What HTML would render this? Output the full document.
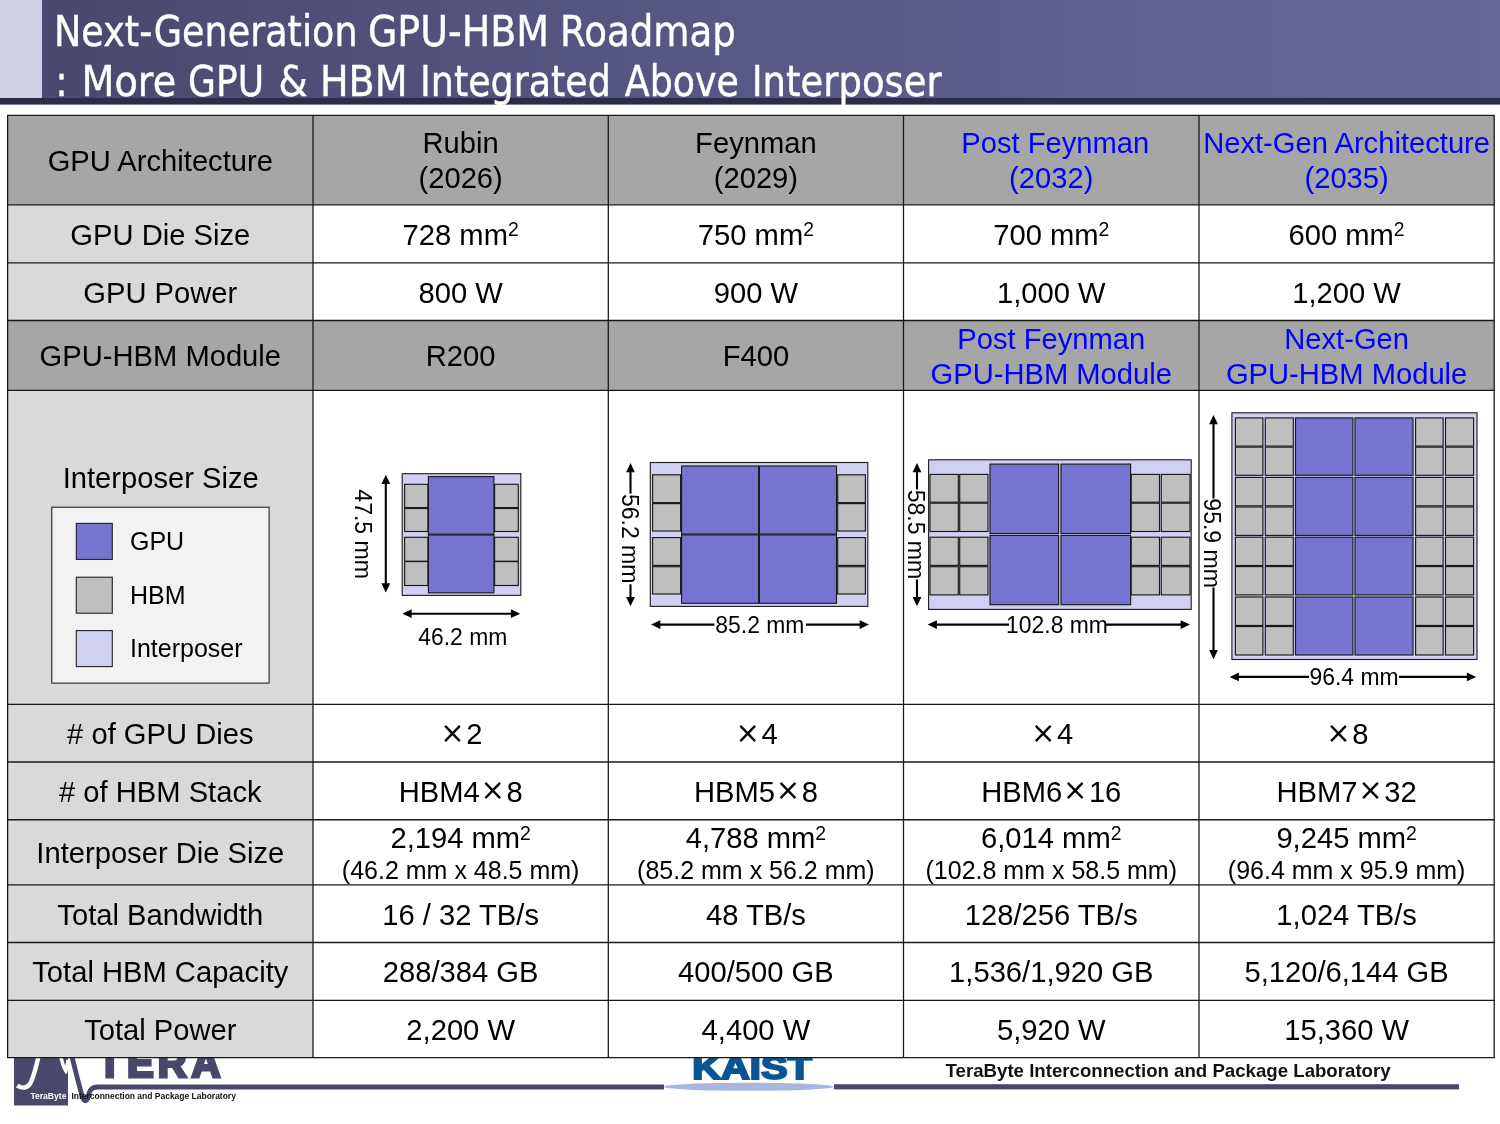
<!DOCTYPE html>
<html lang="en"><head><meta charset="utf-8"><title>Next-Generation GPU-HBM Roadmap</title>
<style>
html,body{margin:0;padding:0;background:#fff;}
body{width:1500px;height:1124px;position:relative;overflow:hidden;font-family:"Liberation Sans",sans-serif;}
svg{position:absolute;left:0;top:0;}
svg text{font-family:"Liberation Sans",sans-serif;}
.ttl{font-family:"DejaVu Sans","Liberation Sans",sans-serif;fill:#fff;font-size:42px;stroke:#fff;stroke-width:0.4px;}
.mx{font-family:"DejaVu Sans","Liberation Sans",sans-serif;}
</style></head><body>
<svg width="1500" height="1124" viewBox="0 0 1500 1124">
<defs>
<linearGradient id="hg" x1="0" y1="0" x2="1" y2="0"><stop offset="0" stop-color="#48486d"/><stop offset="0.25" stop-color="#50507a"/><stop offset="0.8" stop-color="#636395"/><stop offset="1" stop-color="#666699"/></linearGradient>
</defs>
<!-- header -->
<rect x="0" y="0" width="1500" height="99" fill="url(#hg)"/>
<rect x="0" y="0" width="42" height="98.5" fill="#d0d0e3"/>
<rect x="0" y="98" width="1500" height="6.6" fill="#2d2d47"/>
<text class="ttl" transform="translate(54.03,45.6) scale(0.8704,1)">Next-Generation</text>
<text class="ttl" transform="translate(367.9,45.6) scale(0.9043,1)">GPU-HBM</text>
<text class="ttl" transform="translate(559.98,45.6) scale(0.8851,1)">Roadmap</text>
<text class="ttl" transform="translate(55.15,95.6) scale(0.885,1)">:</text>
<text class="ttl" transform="translate(81.59,95.6) scale(0.9084,1)">More</text>
<text class="ttl" transform="translate(188.01,95.6) scale(0.8581,1)">GPU</text>
<text class="ttl" transform="translate(278.49,95.6) scale(0.8916,1)">&amp;</text>
<text class="ttl" transform="translate(319.89,95.6) scale(0.9077,1)">HBM</text>
<text class="ttl" transform="translate(420.04,95.6) scale(0.8678,1)">Integrated</text>
<text class="ttl" transform="translate(624.81,95.6) scale(0.8657,1)">Above</text>
<text class="ttl" transform="translate(751.69,95.6) scale(0.8804,1)">Interposer</text>
<!-- footer (drawn before table, table overlaps it) -->
<g id="footer">
<rect x="14" y="1040" width="54" height="65.5" fill="#48486d"/>
<path d="M17.2,1085.6 C22,1088.6 27.5,1088.6 30.5,1083 C34,1076 36.5,1066 39.5,1052" fill="none" stroke="#fff" stroke-width="4.4"/>
<path d="M59.5,1050 C61,1058 63.5,1068 65.8,1070.8 C66.8,1068 67.3,1064 68.2,1060" fill="none" stroke="#fff" stroke-width="3.6"/>
<path d="M70.2,1050 C74,1064 79,1086 82.5,1097 C84,1102 86.8,1102 88,1097 C89.5,1090.5 91,1087 98,1087 L664,1087" fill="none" stroke="#48486d" stroke-width="4.8"/>
<text x="97.6 126.9 157.8 191.5" y="1077.1" font-size="40" font-weight="bold" fill="#48486d" stroke="#48486d" stroke-width="3" stroke-linejoin="miter">TERA</text>
<text x="30.4" y="1099.4" font-size="8.8" font-weight="bold" fill="#fff" textLength="36" lengthAdjust="spacingAndGlyphs">TeraByte</text>
<text x="71.4" y="1099.4" font-size="8.8" font-weight="bold" fill="#111" textLength="164.5" lengthAdjust="spacingAndGlyphs">Interconnection and Package Laboratory</text>
<ellipse cx="748.8" cy="1086.8" rx="85" ry="4" fill="#aab6df"/>
<text x="692.2" y="1078.8" font-size="32.5" font-weight="bold" fill="#0b5594" stroke="#0b5594" stroke-width="2" stroke-linejoin="miter" textLength="119.8" lengthAdjust="spacingAndGlyphs">KAIST</text>
<rect x="834" y="1084.2" width="625" height="5.2" fill="#48486d"/>
<text x="945.6" y="1076.9" font-size="19" font-weight="bold" fill="#111" textLength="445" lengthAdjust="spacingAndGlyphs">TeraByte Interconnection and Package Laboratory</text>
</g>
<!-- table -->
<rect x="7.6" y="115.4" width="1486.6000000000001" height="942.3000000000001" fill="#fff"/>
<rect x="7.6" y="115.4" width="305.4" height="942.3000000000001" fill="#d9d9d9"/>
<rect x="7.6" y="115.4" width="1486.6000000000001" height="89.4" fill="#a6a6a6"/>
<rect x="7.6" y="320.5" width="1486.6000000000001" height="69.80000000000001" fill="#a6a6a6"/>
<g stroke="#181818" stroke-width="1.28" fill="none">
<line x1="7.1" y1="115.4" x2="1494.7" y2="115.4"/>
<line x1="7.1" y1="204.8" x2="1494.7" y2="204.8"/>
<line x1="7.1" y1="262.8" x2="1494.7" y2="262.8"/>
<line x1="7.1" y1="320.5" x2="1494.7" y2="320.5"/>
<line x1="7.1" y1="390.3" x2="1494.7" y2="390.3"/>
<line x1="7.1" y1="704.3" x2="1494.7" y2="704.3"/>
<line x1="7.1" y1="762.0" x2="1494.7" y2="762.0"/>
<line x1="7.1" y1="819.75" x2="1494.7" y2="819.75"/>
<line x1="7.1" y1="884.8" x2="1494.7" y2="884.8"/>
<line x1="7.1" y1="942.5" x2="1494.7" y2="942.5"/>
<line x1="7.1" y1="1000.3" x2="1494.7" y2="1000.3"/>
<line x1="7.1" y1="1057.7" x2="1494.7" y2="1057.7"/>
<line x1="7.6" y1="115.4" x2="7.6" y2="1057.7"/>
<line x1="313.0" y1="115.4" x2="313.0" y2="1057.7"/>
<line x1="608.3" y1="115.4" x2="608.3" y2="1057.7"/>
<line x1="903.5" y1="115.4" x2="903.5" y2="1057.7"/>
<line x1="1199.0" y1="115.4" x2="1199.0" y2="1057.7"/>
<line x1="1494.2" y1="115.4" x2="1494.2" y2="1057.7"/>
</g>
<text transform="translate(160.30,170.95) scale(1,1.02)" font-size="29.17" fill="#000" text-anchor="middle">GPU Architecture</text>
<text transform="translate(160.30,244.65) scale(1,1.02)" font-size="29.17" fill="#000" text-anchor="middle">GPU Die Size</text>
<text transform="translate(160.30,302.50) scale(1,1.02)" font-size="29.17" fill="#000" text-anchor="middle">GPU Power</text>
<text transform="translate(160.30,366.25) scale(1,1.02)" font-size="29.17" fill="#000" text-anchor="middle">GPU-HBM Module</text>
<text transform="translate(160.30,744.00) scale(1,1.02)" font-size="29.17" fill="#000" text-anchor="middle"># of GPU Dies</text>
<text transform="translate(160.30,801.73) scale(1,1.02)" font-size="29.17" fill="#000" text-anchor="middle"># of HBM Stack</text>
<text transform="translate(160.30,863.12) scale(1,1.02)" font-size="29.17" fill="#000" text-anchor="middle">Interposer Die Size</text>
<text transform="translate(160.30,924.50) scale(1,1.02)" font-size="29.17" fill="#000" text-anchor="middle">Total Bandwidth</text>
<text transform="translate(160.30,982.25) scale(1,1.02)" font-size="29.17" fill="#000" text-anchor="middle">Total HBM Capacity</text>
<text transform="translate(160.30,1039.85) scale(1,1.02)" font-size="29.17" fill="#000" text-anchor="middle">Total Power</text>
<text transform="translate(460.65,153.40) scale(1,1.02)" font-size="29.17" fill="#000" text-anchor="middle">Rubin</text>
<text transform="translate(460.65,188.40) scale(1,1.02)" font-size="29.17" fill="#000" text-anchor="middle">(2026)</text>
<text transform="translate(755.90,153.40) scale(1,1.02)" font-size="29.17" fill="#000" text-anchor="middle">Feynman</text>
<text transform="translate(755.90,188.40) scale(1,1.02)" font-size="29.17" fill="#000" text-anchor="middle">(2029)</text>
<text transform="translate(1055.30,153.40) scale(1,1.02)" font-size="29.17" fill="#0000ff" text-anchor="middle">Post Feynman</text>
<text transform="translate(1051.25,188.40) scale(1,1.02)" font-size="29.17" fill="#0000ff" text-anchor="middle">(2032)</text>
<text transform="translate(1346.60,153.40) scale(1,1.02)" font-size="29.17" fill="#0000ff" text-anchor="middle">Next-Gen Architecture</text>
<text transform="translate(1346.60,188.40) scale(1,1.02)" font-size="29.17" fill="#0000ff" text-anchor="middle">(2035)</text>
<text transform="translate(460.65,244.65) scale(1,1.02)" font-size="29.17" fill="#000" text-anchor="middle">728 mm<tspan font-size="19.4" dy="-8.7">2</tspan></text>
<text transform="translate(755.90,244.65) scale(1,1.02)" font-size="29.17" fill="#000" text-anchor="middle">750 mm<tspan font-size="19.4" dy="-8.7">2</tspan></text>
<text transform="translate(1051.25,244.65) scale(1,1.02)" font-size="29.17" fill="#000" text-anchor="middle">700 mm<tspan font-size="19.4" dy="-8.7">2</tspan></text>
<text transform="translate(1346.60,244.65) scale(1,1.02)" font-size="29.17" fill="#000" text-anchor="middle">600 mm<tspan font-size="19.4" dy="-8.7">2</tspan></text>
<text transform="translate(460.65,302.50) scale(1,1.02)" font-size="29.17" fill="#000" text-anchor="middle">800 W</text>
<text transform="translate(755.90,302.50) scale(1,1.02)" font-size="29.17" fill="#000" text-anchor="middle">900 W</text>
<text transform="translate(1051.25,302.50) scale(1,1.02)" font-size="29.17" fill="#000" text-anchor="middle">1,000 W</text>
<text transform="translate(1346.60,302.50) scale(1,1.02)" font-size="29.17" fill="#000" text-anchor="middle">1,200 W</text>
<text transform="translate(460.65,366.25) scale(1,1.02)" font-size="29.17" fill="#000" text-anchor="middle">R200</text>
<text transform="translate(755.90,366.25) scale(1,1.02)" font-size="29.17" fill="#000" text-anchor="middle">F400</text>
<text transform="translate(1051.25,348.80) scale(1,1.02)" font-size="29.17" fill="#0000ff" text-anchor="middle">Post Feynman</text>
<text transform="translate(1051.25,383.80) scale(1,1.02)" font-size="29.17" fill="#0000ff" text-anchor="middle">GPU-HBM Module</text>
<text transform="translate(1346.60,348.80) scale(1,1.02)" font-size="29.17" fill="#0000ff" text-anchor="middle">Next-Gen</text>
<text transform="translate(1346.60,383.80) scale(1,1.02)" font-size="29.17" fill="#0000ff" text-anchor="middle">GPU-HBM Module</text>
<text transform="translate(460.65,744.00) scale(1,1.02)" font-size="29.17" fill="#000" text-anchor="middle"><tspan class="mx" dx="0.8" dy="-1.4" letter-spacing="1.5">×</tspan><tspan dy="1.4">2</tspan></text>
<text transform="translate(755.90,744.00) scale(1,1.02)" font-size="29.17" fill="#000" text-anchor="middle"><tspan class="mx" dx="0.8" dy="-1.4" letter-spacing="1.5">×</tspan><tspan dy="1.4">4</tspan></text>
<text transform="translate(1051.25,744.00) scale(1,1.02)" font-size="29.17" fill="#000" text-anchor="middle"><tspan class="mx" dx="0.8" dy="-1.4" letter-spacing="1.5">×</tspan><tspan dy="1.4">4</tspan></text>
<text transform="translate(1346.60,744.00) scale(1,1.02)" font-size="29.17" fill="#000" text-anchor="middle"><tspan class="mx" dx="0.8" dy="-1.4" letter-spacing="1.5">×</tspan><tspan dy="1.4">8</tspan></text>
<text transform="translate(460.65,801.73) scale(1,1.02)" font-size="29.17" fill="#000" text-anchor="middle">HBM4<tspan class="mx" dx="0.8" dy="-1.4" letter-spacing="1.5">×</tspan><tspan dy="1.4">8</tspan></text>
<text transform="translate(755.90,801.73) scale(1,1.02)" font-size="29.17" fill="#000" text-anchor="middle">HBM5<tspan class="mx" dx="0.8" dy="-1.4" letter-spacing="1.5">×</tspan><tspan dy="1.4">8</tspan></text>
<text transform="translate(1051.25,801.73) scale(1,1.02)" font-size="29.17" fill="#000" text-anchor="middle">HBM6<tspan class="mx" dx="0.8" dy="-1.4" letter-spacing="1.5">×</tspan><tspan dy="1.4">16</tspan></text>
<text transform="translate(1346.60,801.73) scale(1,1.02)" font-size="29.17" fill="#000" text-anchor="middle">HBM7<tspan class="mx" dx="0.8" dy="-1.4" letter-spacing="1.5">×</tspan><tspan dy="1.4">32</tspan></text>
<text transform="translate(460.65,847.60) scale(1,1.02)" font-size="29.17" fill="#000" text-anchor="middle">2,194 mm<tspan font-size="19.4" dy="-7.0">2</tspan></text>
<text transform="translate(460.65,879.00) scale(1,1.02)" font-size="25" fill="#000" text-anchor="middle">(46.2 mm x 48.5 mm)</text>
<text transform="translate(755.90,847.60) scale(1,1.02)" font-size="29.17" fill="#000" text-anchor="middle">4,788 mm<tspan font-size="19.4" dy="-7.0">2</tspan></text>
<text transform="translate(755.90,879.00) scale(1,1.02)" font-size="25" fill="#000" text-anchor="middle">(85.2 mm x 56.2 mm)</text>
<text transform="translate(1051.25,847.60) scale(1,1.02)" font-size="29.17" fill="#000" text-anchor="middle">6,014 mm<tspan font-size="19.4" dy="-7.0">2</tspan></text>
<text transform="translate(1051.25,879.00) scale(1,1.02)" font-size="25" fill="#000" text-anchor="middle">(102.8 mm x 58.5 mm)</text>
<text transform="translate(1346.60,847.60) scale(1,1.02)" font-size="29.17" fill="#000" text-anchor="middle">9,245 mm<tspan font-size="19.4" dy="-7.0">2</tspan></text>
<text transform="translate(1346.60,879.00) scale(1,1.02)" font-size="25" fill="#000" text-anchor="middle">(96.4 mm x 95.9 mm)</text>
<text transform="translate(460.65,924.50) scale(1,1.02)" font-size="29.17" fill="#000" text-anchor="middle">16 / 32 TB/s</text>
<text transform="translate(755.90,924.50) scale(1,1.02)" font-size="29.17" fill="#000" text-anchor="middle">48 TB/s</text>
<text transform="translate(1051.25,924.50) scale(1,1.02)" font-size="29.17" fill="#000" text-anchor="middle">128/256 TB/s</text>
<text transform="translate(1346.60,924.50) scale(1,1.02)" font-size="29.17" fill="#000" text-anchor="middle">1,024 TB/s</text>
<text transform="translate(460.65,982.25) scale(1,1.02)" font-size="29.17" fill="#000" text-anchor="middle">288/384 GB</text>
<text transform="translate(755.90,982.25) scale(1,1.02)" font-size="29.17" fill="#000" text-anchor="middle">400/500 GB</text>
<text transform="translate(1051.25,982.25) scale(1,1.02)" font-size="29.17" fill="#000" text-anchor="middle">1,536/1,920 GB</text>
<text transform="translate(1346.60,982.25) scale(1,1.02)" font-size="29.17" fill="#000" text-anchor="middle">5,120/6,144 GB</text>
<text transform="translate(460.65,1039.85) scale(1,1.02)" font-size="29.17" fill="#000" text-anchor="middle">2,200 W</text>
<text transform="translate(755.90,1039.85) scale(1,1.02)" font-size="29.17" fill="#000" text-anchor="middle">4,400 W</text>
<text transform="translate(1051.25,1039.85) scale(1,1.02)" font-size="29.17" fill="#000" text-anchor="middle">5,920 W</text>
<text transform="translate(1346.60,1039.85) scale(1,1.02)" font-size="29.17" fill="#000" text-anchor="middle">15,360 W</text>
<text transform="translate(160.70,487.80) scale(1,1.02)" font-size="29.17" fill="#000" text-anchor="middle">Interposer Size</text>
<rect x="51.8" y="507.2" width="217.3" height="175.9" fill="#f2f2f2" stroke="#222" stroke-width="1.1"/>
<rect x="76.3" y="523.4" width="36" height="36" fill="#7673d1" stroke="#222" stroke-width="1.1"/>
<text transform="translate(130.00,550.10) scale(1,1.02)" font-size="25" fill="#000" text-anchor="start">GPU</text>
<rect x="76.3" y="577.2" width="36" height="36" fill="#bfbfbf" stroke="#222" stroke-width="1.1"/>
<text transform="translate(130.00,603.50) scale(1,1.02)" font-size="25" fill="#000" text-anchor="start">HBM</text>
<rect x="76.3" y="630.6" width="36" height="36" fill="#d0d0f0" stroke="#222" stroke-width="1.1"/>
<text transform="translate(130.00,657.30) scale(1,1.02)" font-size="25" fill="#000" text-anchor="start">Interposer</text>
<rect x="402.2" y="473.7" width="118.60" height="121.70" fill="#d0d0f0" stroke="#222" stroke-width="1.15"/>
<rect x="404.6" y="484.3" width="23.30" height="23.30" fill="#bfbfbf" stroke="#1a1a1a" stroke-width="1.15"/>
<rect x="404.6" y="508.5" width="23.30" height="23.00" fill="#bfbfbf" stroke="#1a1a1a" stroke-width="1.15"/>
<rect x="404.6" y="537.3" width="23.30" height="23.90" fill="#bfbfbf" stroke="#1a1a1a" stroke-width="1.15"/>
<rect x="404.6" y="561.6" width="23.30" height="23.90" fill="#bfbfbf" stroke="#1a1a1a" stroke-width="1.15"/>
<rect x="494.6" y="484.3" width="23.70" height="23.30" fill="#bfbfbf" stroke="#1a1a1a" stroke-width="1.15"/>
<rect x="494.6" y="508.5" width="23.70" height="23.00" fill="#bfbfbf" stroke="#1a1a1a" stroke-width="1.15"/>
<rect x="494.6" y="537.3" width="23.70" height="23.90" fill="#bfbfbf" stroke="#1a1a1a" stroke-width="1.15"/>
<rect x="494.6" y="561.6" width="23.70" height="23.90" fill="#bfbfbf" stroke="#1a1a1a" stroke-width="1.15"/>
<rect x="428.4" y="476.6" width="65.50" height="57.60" fill="#7673d1" stroke="#1a1a1a" stroke-width="1.15"/>
<rect x="428.4" y="535.0" width="65.50" height="57.80" fill="#7673d1" stroke="#1a1a1a" stroke-width="1.15"/>
<line x1="385.8" y1="483.1" x2="385.8" y2="584.3000000000001" stroke="#000" stroke-width="2.1"/>
<polygon points="385.8,474.8 381.40000000000003,484.1 390.2,484.1" fill="#000"/>
<polygon points="385.8,592.6 381.40000000000003,583.3000000000001 390.2,583.3000000000001" fill="#000"/>
<line x1="410.7" y1="613.7" x2="511.90000000000003" y2="613.7" stroke="#000" stroke-width="2.1"/>
<polygon points="402.4,613.7 411.7,609.3000000000001 411.7,618.1" fill="#000"/>
<polygon points="520.2,613.7 510.90000000000003,609.3000000000001 510.90000000000003,618.1" fill="#000"/>
<text transform="translate(354.6,534.1) rotate(90)" font-size="23.0" text-anchor="middle">47.5 mm</text>
<text transform="translate(462.80,644.50) scale(1,1.02)" font-size="22.9" fill="#000" text-anchor="middle">46.2 mm</text>
<rect x="650.3" y="462.5" width="217.50" height="143.90" fill="#d0d0f0" stroke="#222" stroke-width="1.15"/>
<rect x="652.6" y="474.8" width="28.00" height="27.80" fill="#bfbfbf" stroke="#1a1a1a" stroke-width="1.15"/>
<rect x="652.6" y="503.6" width="28.00" height="27.40" fill="#bfbfbf" stroke="#1a1a1a" stroke-width="1.15"/>
<rect x="652.6" y="537.6" width="28.00" height="27.80" fill="#bfbfbf" stroke="#1a1a1a" stroke-width="1.15"/>
<rect x="652.6" y="566.7" width="28.00" height="27.30" fill="#bfbfbf" stroke="#1a1a1a" stroke-width="1.15"/>
<rect x="837.7" y="474.8" width="27.70" height="27.80" fill="#bfbfbf" stroke="#1a1a1a" stroke-width="1.15"/>
<rect x="837.7" y="503.6" width="27.70" height="27.40" fill="#bfbfbf" stroke="#1a1a1a" stroke-width="1.15"/>
<rect x="837.7" y="537.6" width="27.70" height="27.80" fill="#bfbfbf" stroke="#1a1a1a" stroke-width="1.15"/>
<rect x="837.7" y="566.7" width="27.70" height="27.30" fill="#bfbfbf" stroke="#1a1a1a" stroke-width="1.15"/>
<rect x="681.6" y="466.0" width="77.00" height="68.10" fill="#7673d1" stroke="#1a1a1a" stroke-width="1.15"/>
<rect x="681.6" y="534.9" width="77.00" height="68.40" fill="#7673d1" stroke="#1a1a1a" stroke-width="1.15"/>
<rect x="759.4" y="466.0" width="77.10" height="68.10" fill="#7673d1" stroke="#1a1a1a" stroke-width="1.15"/>
<rect x="759.4" y="534.9" width="77.10" height="68.40" fill="#7673d1" stroke="#1a1a1a" stroke-width="1.15"/>
<line x1="630.5" y1="471.3" x2="630.5" y2="493.6" stroke="#000" stroke-width="2.1"/>
<line x1="630.5" y1="584.3" x2="630.5" y2="598.0" stroke="#000" stroke-width="2.1"/>
<polygon points="630.5,463.0 626.1,472.3 634.9,472.3" fill="#000"/>
<polygon points="630.5,606.3 626.1,597.0 634.9,597.0" fill="#000"/>
<line x1="659.3" y1="624.6" x2="714.4" y2="624.6" stroke="#000" stroke-width="2.1"/>
<line x1="806" y1="624.6" x2="860.7" y2="624.6" stroke="#000" stroke-width="2.1"/>
<polygon points="651.0,624.6 660.3,620.2 660.3,629.0" fill="#000"/>
<polygon points="869.0,624.6 859.7,620.2 859.7,629.0" fill="#000"/>
<text transform="translate(621.6,538.7) rotate(90)" font-size="23.0" text-anchor="middle">56.2 mm</text>
<text transform="translate(759.90,633.40) scale(1,1.02)" font-size="22.9" fill="#000" text-anchor="middle">85.2 mm</text>
<rect x="928.6" y="459.8" width="262.60" height="149.60" fill="#d0d0f0" stroke="#222" stroke-width="1.15"/>
<rect x="930.0" y="474.4" width="28.30" height="27.80" fill="#bfbfbf" stroke="#1a1a1a" stroke-width="1.15"/>
<rect x="930.0" y="503.2" width="28.30" height="28.30" fill="#bfbfbf" stroke="#1a1a1a" stroke-width="1.15"/>
<rect x="930.0" y="537.2" width="28.30" height="28.20" fill="#bfbfbf" stroke="#1a1a1a" stroke-width="1.15"/>
<rect x="930.0" y="566.7" width="28.30" height="28.20" fill="#bfbfbf" stroke="#1a1a1a" stroke-width="1.15"/>
<rect x="959.7" y="474.4" width="28.30" height="27.80" fill="#bfbfbf" stroke="#1a1a1a" stroke-width="1.15"/>
<rect x="959.7" y="503.2" width="28.30" height="28.30" fill="#bfbfbf" stroke="#1a1a1a" stroke-width="1.15"/>
<rect x="959.7" y="537.2" width="28.30" height="28.20" fill="#bfbfbf" stroke="#1a1a1a" stroke-width="1.15"/>
<rect x="959.7" y="566.7" width="28.30" height="28.20" fill="#bfbfbf" stroke="#1a1a1a" stroke-width="1.15"/>
<rect x="1131.2" y="474.4" width="28.30" height="27.80" fill="#bfbfbf" stroke="#1a1a1a" stroke-width="1.15"/>
<rect x="1131.2" y="503.2" width="28.30" height="28.30" fill="#bfbfbf" stroke="#1a1a1a" stroke-width="1.15"/>
<rect x="1131.2" y="537.2" width="28.30" height="28.20" fill="#bfbfbf" stroke="#1a1a1a" stroke-width="1.15"/>
<rect x="1131.2" y="566.7" width="28.30" height="28.20" fill="#bfbfbf" stroke="#1a1a1a" stroke-width="1.15"/>
<rect x="1161.3" y="474.4" width="28.70" height="27.80" fill="#bfbfbf" stroke="#1a1a1a" stroke-width="1.15"/>
<rect x="1161.3" y="503.2" width="28.70" height="28.30" fill="#bfbfbf" stroke="#1a1a1a" stroke-width="1.15"/>
<rect x="1161.3" y="537.2" width="28.70" height="28.20" fill="#bfbfbf" stroke="#1a1a1a" stroke-width="1.15"/>
<rect x="1161.3" y="566.7" width="28.70" height="28.20" fill="#bfbfbf" stroke="#1a1a1a" stroke-width="1.15"/>
<rect x="990.0" y="464.1" width="68.60" height="69.40" fill="#7673d1" stroke="#1a1a1a" stroke-width="1.15"/>
<rect x="990.0" y="535.4" width="68.60" height="69.30" fill="#7673d1" stroke="#1a1a1a" stroke-width="1.15"/>
<rect x="1061.0" y="464.1" width="69.60" height="69.40" fill="#7673d1" stroke="#1a1a1a" stroke-width="1.15"/>
<rect x="1061.0" y="535.4" width="69.60" height="69.30" fill="#7673d1" stroke="#1a1a1a" stroke-width="1.15"/>
<line x1="917" y1="471.3" x2="917" y2="489.5" stroke="#000" stroke-width="2.1"/>
<line x1="917" y1="579.5" x2="917" y2="598.0" stroke="#000" stroke-width="2.1"/>
<polygon points="917,463.0 912.6,472.3 921.4,472.3" fill="#000"/>
<polygon points="917,606.3 912.6,597.0 921.4,597.0" fill="#000"/>
<line x1="935.9" y1="624.6" x2="1009" y2="624.6" stroke="#000" stroke-width="2.1"/>
<line x1="1105" y1="624.6" x2="1181.7" y2="624.6" stroke="#000" stroke-width="2.1"/>
<polygon points="927.6,624.6 936.9,620.2 936.9,629.0" fill="#000"/>
<polygon points="1190.0,624.6 1180.7,620.2 1180.7,629.0" fill="#000"/>
<text transform="translate(908.4,534.4) rotate(90)" font-size="23.0" text-anchor="middle">58.5 mm</text>
<text transform="translate(1057.00,633.40) scale(1,1.02)" font-size="22.9" fill="#000" text-anchor="middle">102.8 mm</text>
<rect x="1231.9" y="412.8" width="245.10" height="246.70" fill="#d0d0f0" stroke="#222" stroke-width="1.15"/>
<rect x="1235.4" y="417.9" width="27.50" height="28.15" fill="#bfbfbf" stroke="#1a1a1a" stroke-width="1.15"/>
<rect x="1235.4" y="447.15000000000003" width="27.50" height="28.15" fill="#bfbfbf" stroke="#1a1a1a" stroke-width="1.15"/>
<rect x="1235.4" y="477.4" width="27.50" height="28.45" fill="#bfbfbf" stroke="#1a1a1a" stroke-width="1.15"/>
<rect x="1235.4" y="506.95" width="27.50" height="28.45" fill="#bfbfbf" stroke="#1a1a1a" stroke-width="1.15"/>
<rect x="1235.4" y="537.2" width="27.50" height="28.30" fill="#bfbfbf" stroke="#1a1a1a" stroke-width="1.15"/>
<rect x="1235.4" y="566.5999999999999" width="27.50" height="28.30" fill="#bfbfbf" stroke="#1a1a1a" stroke-width="1.15"/>
<rect x="1235.4" y="597.0" width="27.50" height="28.45" fill="#bfbfbf" stroke="#1a1a1a" stroke-width="1.15"/>
<rect x="1235.4" y="626.55" width="27.50" height="28.45" fill="#bfbfbf" stroke="#1a1a1a" stroke-width="1.15"/>
<rect x="1265.3" y="417.9" width="28.00" height="28.15" fill="#bfbfbf" stroke="#1a1a1a" stroke-width="1.15"/>
<rect x="1265.3" y="447.15000000000003" width="28.00" height="28.15" fill="#bfbfbf" stroke="#1a1a1a" stroke-width="1.15"/>
<rect x="1265.3" y="477.4" width="28.00" height="28.45" fill="#bfbfbf" stroke="#1a1a1a" stroke-width="1.15"/>
<rect x="1265.3" y="506.95" width="28.00" height="28.45" fill="#bfbfbf" stroke="#1a1a1a" stroke-width="1.15"/>
<rect x="1265.3" y="537.2" width="28.00" height="28.30" fill="#bfbfbf" stroke="#1a1a1a" stroke-width="1.15"/>
<rect x="1265.3" y="566.5999999999999" width="28.00" height="28.30" fill="#bfbfbf" stroke="#1a1a1a" stroke-width="1.15"/>
<rect x="1265.3" y="597.0" width="28.00" height="28.45" fill="#bfbfbf" stroke="#1a1a1a" stroke-width="1.15"/>
<rect x="1265.3" y="626.55" width="28.00" height="28.45" fill="#bfbfbf" stroke="#1a1a1a" stroke-width="1.15"/>
<rect x="1415.6" y="417.9" width="27.50" height="28.15" fill="#bfbfbf" stroke="#1a1a1a" stroke-width="1.15"/>
<rect x="1415.6" y="447.15000000000003" width="27.50" height="28.15" fill="#bfbfbf" stroke="#1a1a1a" stroke-width="1.15"/>
<rect x="1415.6" y="477.4" width="27.50" height="28.45" fill="#bfbfbf" stroke="#1a1a1a" stroke-width="1.15"/>
<rect x="1415.6" y="506.95" width="27.50" height="28.45" fill="#bfbfbf" stroke="#1a1a1a" stroke-width="1.15"/>
<rect x="1415.6" y="537.2" width="27.50" height="28.30" fill="#bfbfbf" stroke="#1a1a1a" stroke-width="1.15"/>
<rect x="1415.6" y="566.5999999999999" width="27.50" height="28.30" fill="#bfbfbf" stroke="#1a1a1a" stroke-width="1.15"/>
<rect x="1415.6" y="597.0" width="27.50" height="28.45" fill="#bfbfbf" stroke="#1a1a1a" stroke-width="1.15"/>
<rect x="1415.6" y="626.55" width="27.50" height="28.45" fill="#bfbfbf" stroke="#1a1a1a" stroke-width="1.15"/>
<rect x="1445.5" y="417.9" width="28.10" height="28.15" fill="#bfbfbf" stroke="#1a1a1a" stroke-width="1.15"/>
<rect x="1445.5" y="447.15000000000003" width="28.10" height="28.15" fill="#bfbfbf" stroke="#1a1a1a" stroke-width="1.15"/>
<rect x="1445.5" y="477.4" width="28.10" height="28.45" fill="#bfbfbf" stroke="#1a1a1a" stroke-width="1.15"/>
<rect x="1445.5" y="506.95" width="28.10" height="28.45" fill="#bfbfbf" stroke="#1a1a1a" stroke-width="1.15"/>
<rect x="1445.5" y="537.2" width="28.10" height="28.30" fill="#bfbfbf" stroke="#1a1a1a" stroke-width="1.15"/>
<rect x="1445.5" y="566.5999999999999" width="28.10" height="28.30" fill="#bfbfbf" stroke="#1a1a1a" stroke-width="1.15"/>
<rect x="1445.5" y="597.0" width="28.10" height="28.45" fill="#bfbfbf" stroke="#1a1a1a" stroke-width="1.15"/>
<rect x="1445.5" y="626.55" width="28.10" height="28.45" fill="#bfbfbf" stroke="#1a1a1a" stroke-width="1.15"/>
<rect x="1295.5" y="417.9" width="57.40" height="57.40" fill="#7673d1" stroke="#1a1a1a" stroke-width="1.15"/>
<rect x="1295.5" y="477.4" width="57.40" height="58.00" fill="#7673d1" stroke="#1a1a1a" stroke-width="1.15"/>
<rect x="1295.5" y="537.2" width="57.40" height="57.70" fill="#7673d1" stroke="#1a1a1a" stroke-width="1.15"/>
<rect x="1295.5" y="597.0" width="57.40" height="58.00" fill="#7673d1" stroke="#1a1a1a" stroke-width="1.15"/>
<rect x="1355.0" y="417.9" width="58.00" height="57.40" fill="#7673d1" stroke="#1a1a1a" stroke-width="1.15"/>
<rect x="1355.0" y="477.4" width="58.00" height="58.00" fill="#7673d1" stroke="#1a1a1a" stroke-width="1.15"/>
<rect x="1355.0" y="537.2" width="58.00" height="57.70" fill="#7673d1" stroke="#1a1a1a" stroke-width="1.15"/>
<rect x="1355.0" y="597.0" width="58.00" height="58.00" fill="#7673d1" stroke="#1a1a1a" stroke-width="1.15"/>
<line x1="1213.5" y1="423.3" x2="1213.5" y2="498.5" stroke="#000" stroke-width="2.1"/>
<line x1="1213.5" y1="587.5" x2="1213.5" y2="650.9000000000001" stroke="#000" stroke-width="2.1"/>
<polygon points="1213.5,415.0 1209.1,424.3 1217.9,424.3" fill="#000"/>
<polygon points="1213.5,659.2 1209.1,649.9000000000001 1217.9,649.9000000000001" fill="#000"/>
<line x1="1237.8999999999999" y1="676.9" x2="1309" y2="676.9" stroke="#000" stroke-width="2.1"/>
<line x1="1399" y1="676.9" x2="1467.9" y2="676.9" stroke="#000" stroke-width="2.1"/>
<polygon points="1229.6,676.9 1238.8999999999999,672.5 1238.8999999999999,681.3" fill="#000"/>
<polygon points="1476.2,676.9 1466.9,672.5 1466.9,681.3" fill="#000"/>
<text transform="translate(1204.4,543.1) rotate(90)" font-size="23.0" text-anchor="middle">95.9 mm</text>
<text transform="translate(1354.00,685.20) scale(1,1.02)" font-size="22.9" fill="#000" text-anchor="middle">96.4 mm</text>
</svg>
</body></html>
